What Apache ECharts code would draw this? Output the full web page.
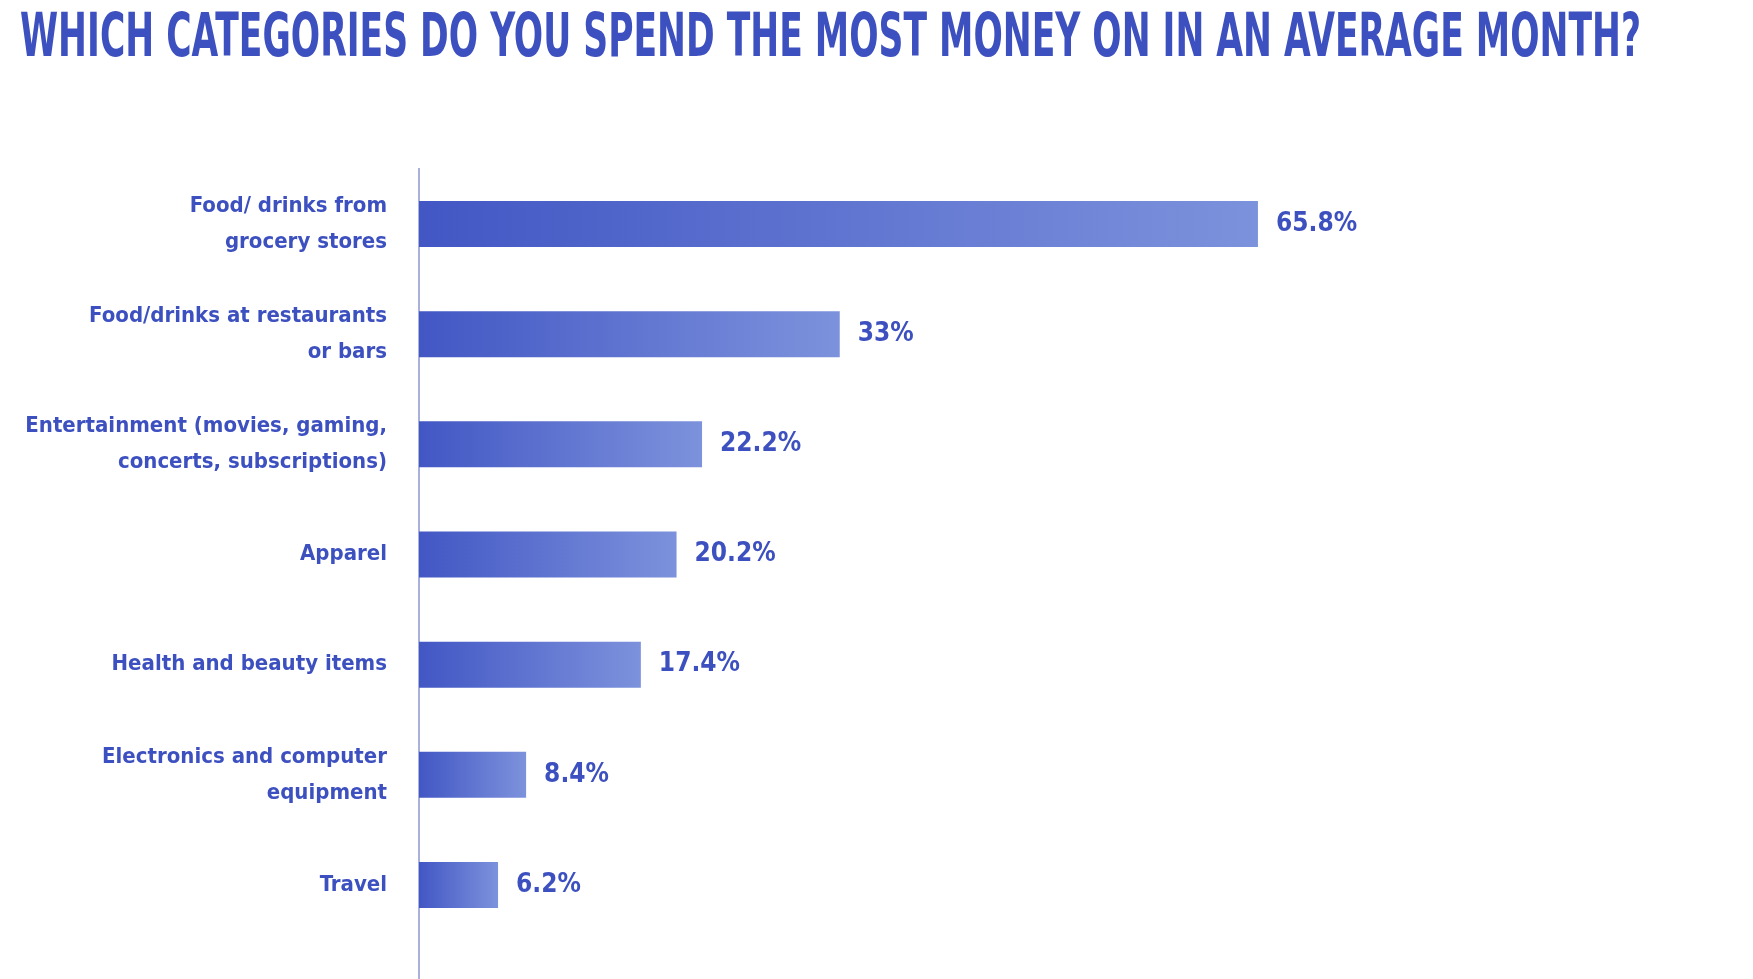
<!DOCTYPE html>
<html><head><meta charset="utf-8">
<script src="https://cdn.jsdelivr.net/npm/echarts@6/dist/echarts.min.js"></script>
<style>html,body{margin:0;background:#fff}#c{width:1753px;height:979px}</style>
</head><body><div id="c"></div>
<script>
var categories = ['Food/ drinks from\ngrocery stores', 'Food/drinks at restaurants\nor bars', 'Entertainment (movies, gaming,\nconcerts, subscriptions)', 'Apparel', 'Health and beauty items', 'Electronics and computer\nequipment', 'Travel']
var values = [65.8, 33, 22.2, 20.2, 17.4, 8.4, 6.2]
var labels = ['65.8%', '33%', '22.2%', '20.2%', '17.4%', '8.4%', '6.2%']

var blue = '#3d50bf'
var font = '"DejaVu Sans Condensed", sans-serif'
var chart = echarts.init(document.getElementById('c'))
chart.setOption({
  backgroundColor: '#fff',
  grid: { left: 419, right: 59, top: 169, bottom: 979 - 940, outerBoundsMode: 'none', containLabel: false },
  xAxis: { type: 'value', min: 0, max: 100, show: false },
  yAxis: {
    type: 'category', inverse: true, data: categories,
    axisLine: { show: false }, axisTick: { show: false },
    axisLabel: { color: blue, fontFamily: font, fontWeight: 'bold', fontSize: 22, lineHeight: 36, margin: 32, align: 'right' }
  },
  graphic: [
    { type: 'line', shape: { x1: 419, y1: 168, x2: 419, y2: 979 }, style: { stroke: '#5565b8', lineWidth: 1 } },
    {
      type: 'text', x: 20, y: 40, scaleX: 0.64,
      style: {
        text: 'WHICH CATEGORIES DO YOU SPEND THE MOST MONEY ON IN AN AVERAGE MONTH?',
        fill: blue, font: 'bold 60px "DejaVu Sans Condensed", sans-serif', verticalAlign: 'middle'
      }
    }
  ],
  series: [{
    type: 'bar', data: values, barWidth: 46,
    itemStyle: { color: new echarts.graphic.LinearGradient(0, 0, 1, 0, [{ offset: 0, color: '#4257c4' }, { offset: 1, color: '#7d92dc' }]) },
    label: {
      show: true, position: 'right', distance: 18,
      formatter: function (p) { return labels[p.dataIndex] },
      color: blue, fontFamily: font, fontWeight: 'bold', fontSize: 26
    }
  }]
})
</script></body></html>
